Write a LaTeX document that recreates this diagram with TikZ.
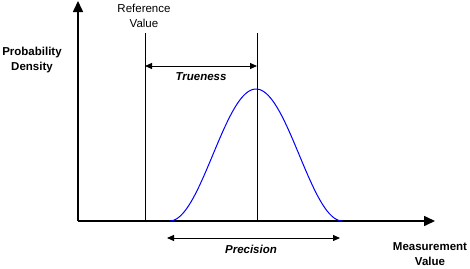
\documentclass[tikz,border=0pt]{standalone}
\usepackage{fontspec}
\setmainfont{Liberation Sans}
\usetikzlibrary{arrows.meta}
\begin{document}
\begin{tikzpicture}[x=1pt, y=-1pt,
        axis/.style={line width=1.6pt, -{Triangle[length=11pt, width=10pt]}},
        guide/.style={line width=1pt},
        span/.style={line width=1pt, {Triangle[length=7pt, width=6pt]}-{Triangle[length=7pt, width=6pt]}},
        bell/.style={blue, line width=1pt},
        lbl/.style={font=\fontsize{11.5}{14.5}\selectfont, align=center, inner sep=0pt}]
        \useasboundingbox (0,0) rectangle (470,268);

        % axes
        \coordinate (origin) at (78,221);
        \coordinate (ytip) at (78,1);
        \coordinate (xtip) at (435,221);
        \draw[axis] (origin) -- (ytip);
        \draw[axis] (origin) -- (xtip);
        \node[lbl, font=\fontsize{11.5}{14.5}\selectfont\bfseries] (ylabel) at (32,60) {Probability\\Density};
        \node[lbl, font=\fontsize{11.5}{14.5}\selectfont\bfseries] (xlabel) at (430,254) {Measurement\\Value};

        % reference value and mean
        \coordinate (reftop) at (145,33);
        \coordinate (refbot) at (145,221);
        \coordinate (meantop) at (257,33);
        \coordinate (meanbot) at (257,221);
        \draw[guide] (reftop) -- (refbot);
        \draw[guide] (meantop) -- (meanbot);
        \node[lbl] (reflabel) at (144,16) {Reference\\Value};

        % distribution
        \draw[bell] plot[domain=-1:1, samples=80, smooth] ({256+86.5*\x}, {221-132*(1+cos(180*\x))/2});

        % trueness and precision
        \coordinate (tl) at (145,66);
        \coordinate (tr) at (257,66);
        \draw[span] (tl) -- (tr);
        \node[lbl, font=\fontsize{11.5}{14.5}\selectfont\bfseries\itshape] (trueness) at (201,77) {Trueness};
        \coordinate (pl) at (167,238);
        \coordinate (pr) at (340,238);
        \draw[span] (pl) -- (pr);
        \node[lbl, font=\fontsize{11.5}{14.5}\selectfont\bfseries\itshape] (precision) at (251,249) {Precision};
\end{tikzpicture}
\end{document}
